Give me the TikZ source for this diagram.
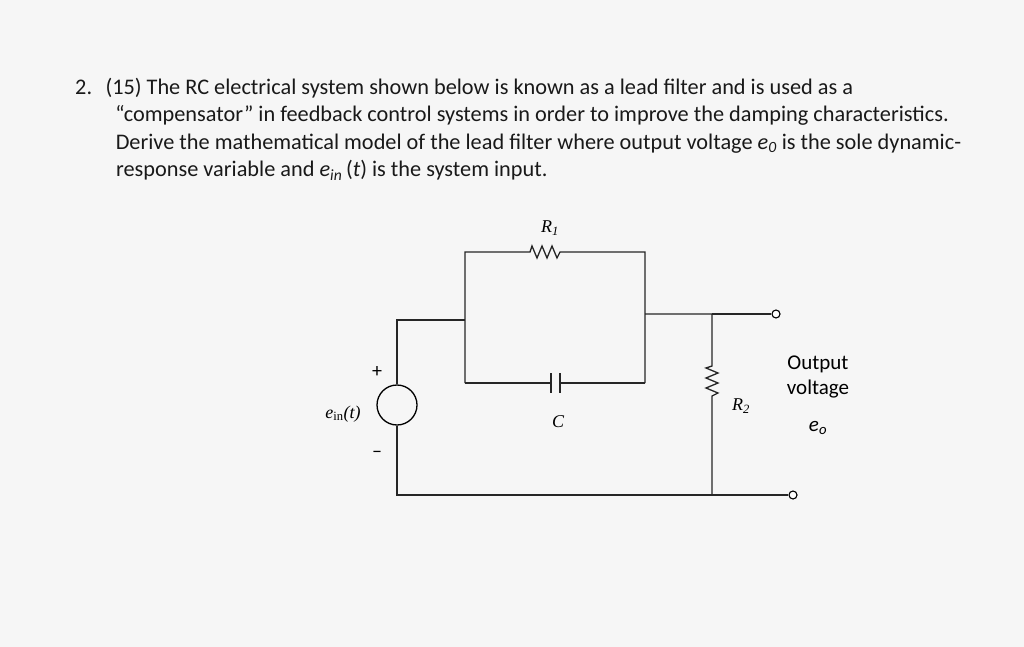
\documentclass[tikz,border=0pt]{standalone}
\usepackage{fontspec}
\setmainfont{Carlito}
\newfontfamily\serifc{Liberation Serif}
\begin{document}
\begin{tikzpicture}[x=1pt,y=-1pt,
  wire/.style={line width=1.3pt,black!85},
  term/.style={circle,draw,line width=1.1pt,fill=white,inner sep=0pt,minimum size=8pt},
  lab/.style={font=\serifc\itshape\fontsize{18}{18}\selectfont},
  txt/.style={font=\fontsize{22.3}{26}\selectfont,anchor=west,inner sep=0pt,text=black!90}]
\fill[gray!7] (0,0) rectangle (1024,647);
\useasboundingbox (0,0) rectangle (1024,647);
% text
\begin{scope}[rotate around={0.6:(75,88)}]
\node[txt] (t1) at (75,88) {2.\hspace{0.6em}(15) The RC electrical system shown below is known as a lead filter and is used as a};
\node[txt] (t2) at (115,116) {“compensator” in feedback control systems in order to improve the damping characteristics.};
\node[txt] (t3) at (115,144) {Derive the mathematical model of the lead filter where output voltage \textit{e\textsubscript{0}} is the sole dynamic-};
\node[txt] (t4) at (115,171) {response variable and \textit{e\textsubscript{in}}\,(\textit{t}) is the system input.};
\end{scope}
% nodes
\node[circle,draw,line width=1.3pt,minimum size=40pt,inner sep=0pt] (src) at (397,405) {};
\coordinate (a) at (397,320); \coordinate (b) at (465,320);
\coordinate (tl) at (465,252); \coordinate (tr) at (645,252);
\coordinate (bl) at (465,383); \coordinate (br) at (645,383);
\coordinate (o1) at (645,314); \coordinate (r2t) at (712,314);
\node[term] (out1) at (776,314) {};
\node[term] (out2) at (793,495) {};
\coordinate (gl) at (397,495); \coordinate (r2b) at (712,495);
% wiring
\draw[wire] (src.north) -- (a) -- (b);
\draw[wire] (bl) -- (tl) -- (530,252) -- ++(2,-6) -- ++(5,12) -- ++(5,-12) -- ++(5,12) -- ++(5,-12) -- ++(5,12) -- ++(3,-6) -- (tr) -- (br);
\draw[wire] (bl) -- (551,383) (560,383) -- (br);
\draw[wire] (551,373) -- (551,393) (560,373) -- (560,393);
\draw[wire] (o1) -- (r2t) -- (712,366) -- ++(-6,2) -- ++(12,5) -- ++(-12,5) -- ++(12,5) -- ++(-12,5) -- ++(12,5) -- ++(-6,3) -- (r2b);
\draw[wire] (r2t) -- (out1.west);
\draw[wire] (src.south) -- (gl) -- (out2.west);
% labels
\node[lab] (lr1) at (550,228) {R\textsubscript{1}};
\node[lab] (lc) at (558,422) {C};
\node[lab] (lr2) at (741,406) {R\textsubscript{2}};
\node[font=\fontsize{20}{20}\selectfont] (plus) at (377,372) {+};
\node[font=\fontsize{20}{20}\selectfont] (minus) at (377,454) {--};
\node[lab] (ein) at (343,414) {e\textsubscript{\upshape in}(\textit{t})};
\node[font=\fontsize{21}{25}\selectfont,align=center] (ov) at (818,377) {Output\\voltage};
\node[font=\fontsize{21}{21}\selectfont\itshape] (eo) at (818,428) {e\textsubscript{o}};
\end{tikzpicture}
\end{document}
